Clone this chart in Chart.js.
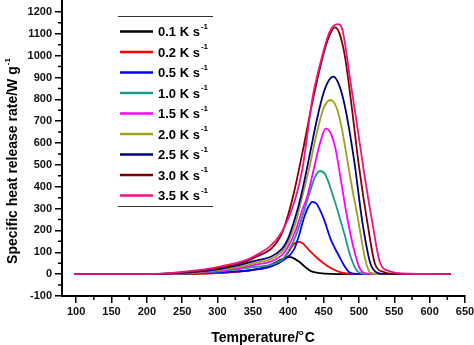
<!DOCTYPE html>
<html>
<head>
<meta charset="utf-8">
<script src="https://cdn.jsdelivr.net/npm/chart.js@4/dist/chart.umd.min.js"></script>
<style>
html,body{margin:0;padding:0;background:#fff;}
#wrap{width:474px;height:345px;}
</style>
</head>
<body>
<div id="wrap"><canvas id="c" width="474" height="345"></canvas></div>
<script>
// ---- Data ----
const labels = ["0.1 K s", "0.2 K s", "0.5 K s", "1.0 K s", "1.5 K s", "2.0 K s", "2.5 K s", "3.0 K s", "3.5 K s"];
const colors = ["#000000", "#ff0000", "#0000ff", "#1b998b", "#ff00ff", "#a0a020", "#00007f", "#7f0000", "#f0127f"];

const T01 = [97, 200, 250, 300, 330, 350, 370, 385, 395, 400, 405, 415, 425, 432, 445, 460, 480, 630];
const V01 = [0, 0, 2, 6, 12, 20, 35, 58, 74, 79, 77, 58, 30, 14, 5, 1, 0, 0];

const T02 = [97, 200, 250, 300, 343, 366, 380, 390, 400, 407, 413, 420, 430, 441, 450, 460, 474, 490, 630];
const V02 = [0, 0, 1, 5, 16, 28, 42, 59, 98, 135, 148, 142, 108, 74, 50, 28, 8, 1, 0];

const T05 = [97, 200, 250, 300, 350, 376, 395, 408, 415, 422, 428, 434, 440, 450, 460, 465, 472, 479, 486, 495, 630];
const V05 = [0, 0, 2, 8, 20, 36, 68, 112, 175, 255, 305, 331, 322, 255, 160, 125, 82, 40, 10, 1, 0];

const T10 = [97, 200, 250, 300, 350, 390, 400, 410, 420, 430, 438, 445, 452, 465, 479, 488, 498, 510, 630];
const V10 = [0, 0, 3, 12, 32, 62, 105, 170, 265, 370, 445, 472, 458, 342, 189, 82, 13, 1, 0];

const T15 = [97, 200, 250, 300, 350, 390, 400, 410, 420, 427, 435, 445, 453, 460, 467, 475, 483, 493, 502, 512, 630];
const V15 = [0, 0, 4, 15, 40, 85, 128, 195, 295, 357, 465, 600, 666, 645, 571, 420, 265, 112, 21, 2, 0];

const T20 = [97, 200, 250, 300, 350, 390, 400, 410, 420, 430, 440, 450, 460, 468, 475, 481, 490, 498, 509, 516, 525, 630];
const V20 = [0, 0, 5, 18, 48, 100, 148, 230, 357, 490, 640, 760, 797, 765, 680, 571, 400, 265, 66, 7, 1, 0];

const T25 = [97, 200, 250, 300, 350, 390, 400, 410, 418, 430, 440, 450, 458, 464, 472, 480, 493, 505, 516, 525, 535, 630];
const V25 = [0, 0, 6, 22, 58, 112, 165, 260, 357, 540, 700, 830, 890, 904, 865, 770, 525, 235, 51, 8, 1, 0];

const T30 = [97, 200, 250, 300, 350, 390, 406, 420, 434, 448, 458, 466, 472, 480, 490, 500, 512, 523, 535, 550, 630];
const V30 = [0, 0, 8, 28, 72, 180, 345, 555, 785, 985, 1090, 1129, 1105, 1000, 760, 494, 235, 44, 10, 2, 0];

const T35 = [97, 200, 250, 305, 352, 390, 410, 420, 434, 445, 458, 465, 470, 476, 488, 497, 507, 519, 530, 544, 560, 630];
const V35 = [0, 0, 10, 36, 82, 189, 345, 480, 800, 960, 1106, 1138, 1144, 1125, 880, 690, 470, 235, 51, 13, 3, 0];

const xTickValues = [100, 150, 200, 250, 300, 350, 400, 450, 500, 550, 600, 650];
const yTickValues = [-100, 0, 100, 200, 300, 400, 500, 600, 700, 800, 900, 1000, 1100, 1200];

const temps = [T01, T02, T05, T10, T15, T20, T25, T30, T35];
const vals = [V01, V02, V05, V10, V15, V20, V25, V30, V35];

const FONT = '"Liberation Sans", Arial, sans-serif';

const datasets = labels.map((lab, i) => ({
  label: lab,
  data: temps[i].map((t, k) => ({x: t, y: vals[i][k]})),
  borderColor: colors[i],
  backgroundColor: colors[i],
  borderWidth: 1.8,
  pointRadius: 0,
  fill: false,
  cubicInterpolationMode: 'monotone',
  order: labels.length - 1 - i
}));

function drawSup(ctx, x, y, main, sup, size, supSize, rise) {
  ctx.font = 'bold ' + size + 'px ' + FONT;
  ctx.fillText(main, x, y);
  const w = ctx.measureText(main).width;
  ctx.font = 'bold ' + supSize + 'px ' + FONT;
  ctx.fillText(sup, x + w + 1, y - rise);
}

const extras = {
  id: 'extras',
  afterDraw(chart) {
    const ctx = chart.ctx;
    const xs = chart.scales.x, ys = chart.scales.y;
    const area = chart.chartArea;
    ctx.save();
    // minor ticks
    ctx.strokeStyle = '#000';
    ctx.lineWidth = 1.5;
    ctx.beginPath();
    for (let v = 125; v < 650; v += 50) {
      const px = xs.getPixelForValue(v);
      ctx.moveTo(px, area.bottom);
      ctx.lineTo(px, area.bottom + 4);
    }
    for (let v = -50; v < 1250; v += 100) {
      const py = ys.getPixelForValue(v);
      ctx.moveTo(area.left, py);
      ctx.lineTo(area.left - 4, py);
    }
    ctx.stroke();

    // legend
    ctx.fillStyle = '#000';
    ctx.strokeStyle = '#333';
    ctx.lineWidth = 1;
    ctx.beginPath();
    ctx.moveTo(118, 16.5); ctx.lineTo(213, 16.5);
    ctx.moveTo(118, 206.5); ctx.lineTo(213, 206.5);
    ctx.stroke();
    ctx.textBaseline = 'middle';
    ctx.textAlign = 'left';
    labels.forEach((lab, i) => {
      const yy = 31.5 + i * 20.5;
      ctx.strokeStyle = colors[i];
      ctx.lineWidth = 2.6;
      ctx.beginPath();
      ctx.moveTo(120, yy); ctx.lineTo(153, yy);
      ctx.stroke();
      ctx.fillStyle = '#000';
      drawSup(ctx, 158, yy + 1, lab, '-1', 13, 8, 6);
    });

    // x title
    ctx.textBaseline = 'alphabetic';
    ctx.fillStyle = '#000';
    ctx.font = 'bold 14px ' + FONT;
    const p1 = 'Temperature/';
    const w1 = ctx.measureText(p1).width;
    ctx.font = 'bold 8px ' + FONT;
    const w2 = ctx.measureText('o').width;
    ctx.font = 'bold 14px ' + FONT;
    const w3 = ctx.measureText('C').width;
    const tot = w1 + w2 + 1 + w3;
    let sx = 263 - tot / 2;
    ctx.fillText(p1, sx, 342);
    ctx.font = 'bold 8px ' + FONT;
    ctx.fillText('o', sx + w1, 335);
    ctx.font = 'bold 14px ' + FONT;
    ctx.fillText('C', sx + w1 + w2 + 1, 342);

    // y title
    ctx.translate(17, 161);
    ctx.rotate(-Math.PI / 2);
    ctx.font = 'bold 14px ' + FONT;
    const m = 'Specific heat release rate/W g';
    const mw = ctx.measureText(m).width;
    ctx.font = 'bold 8px ' + FONT;
    const sw = ctx.measureText('-1').width;
    const ttot = mw + 1 + sw;
    drawSup(ctx, -ttot / 2, 0, m, '-1', 14, 8, 7);
    ctx.restore();
  }
};

new Chart(document.getElementById('c'), {
  type: 'line',
  data: { datasets },
  options: {
    responsive: false,
    animation: false,
    layout: { padding: { top: 1, right: 9, left: 0, bottom: 0 } },
    plugins: { legend: { display: false }, tooltip: { enabled: false } },
    scales: {
      x: {
        type: 'linear',
        min: 80, max: 650,
        afterBuildTicks: s => { s.ticks = xTickValues.map(v => ({value: v})); },
        afterFit: s => { s.height = 49; s.paddingLeft = 0; s.paddingRight = 0; },
        ticks: { font: { family: FONT, size: 11, weight: 'bold' }, color: '#111', padding: 2, maxRotation: 0,
                 callback: v => String(v) },
        grid: { drawOnChartArea: false, tickLength: 7, color: '#000', lineWidth: 1.5 },
        border: { color: '#000', width: 2 }
      },
      y: {
        type: 'linear',
        min: -100, max: 1250,
        afterBuildTicks: s => { s.ticks = yTickValues.map(v => ({value: v})); },
        afterFit: s => { s.width = 62; s.paddingTop = 0; s.paddingBottom = 0; },
        ticks: { font: { family: FONT, size: 11, weight: 'bold' }, color: '#111', padding: 3,
                 callback: v => String(v) },
        grid: { drawOnChartArea: false, tickLength: 7, color: '#000', lineWidth: 1.5 },
        border: { color: '#000', width: 2 }
      }
    }
  },
  plugins: [extras]
});
</script>
</body>
</html>
